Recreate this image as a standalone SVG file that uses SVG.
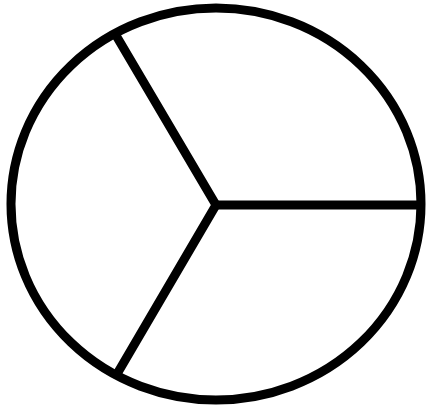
<svg xmlns="http://www.w3.org/2000/svg" width="435" height="410" viewBox="0 0 435 410">
<style>
.s{fill:none;stroke:#000;stroke-width:9;stroke-linejoin:miter}
</style>
<rect width="435" height="410" fill="#fff"/>
<g id="circle">
<ellipse class="s" cx="216" cy="204" rx="205" ry="196"/>
</g>
<g id="dividers">
<polyline class="s" points="114,32 216,205 117,374"/>
<line class="s" x1="214" y1="205" x2="421" y2="205"/>
</g>
</svg>
